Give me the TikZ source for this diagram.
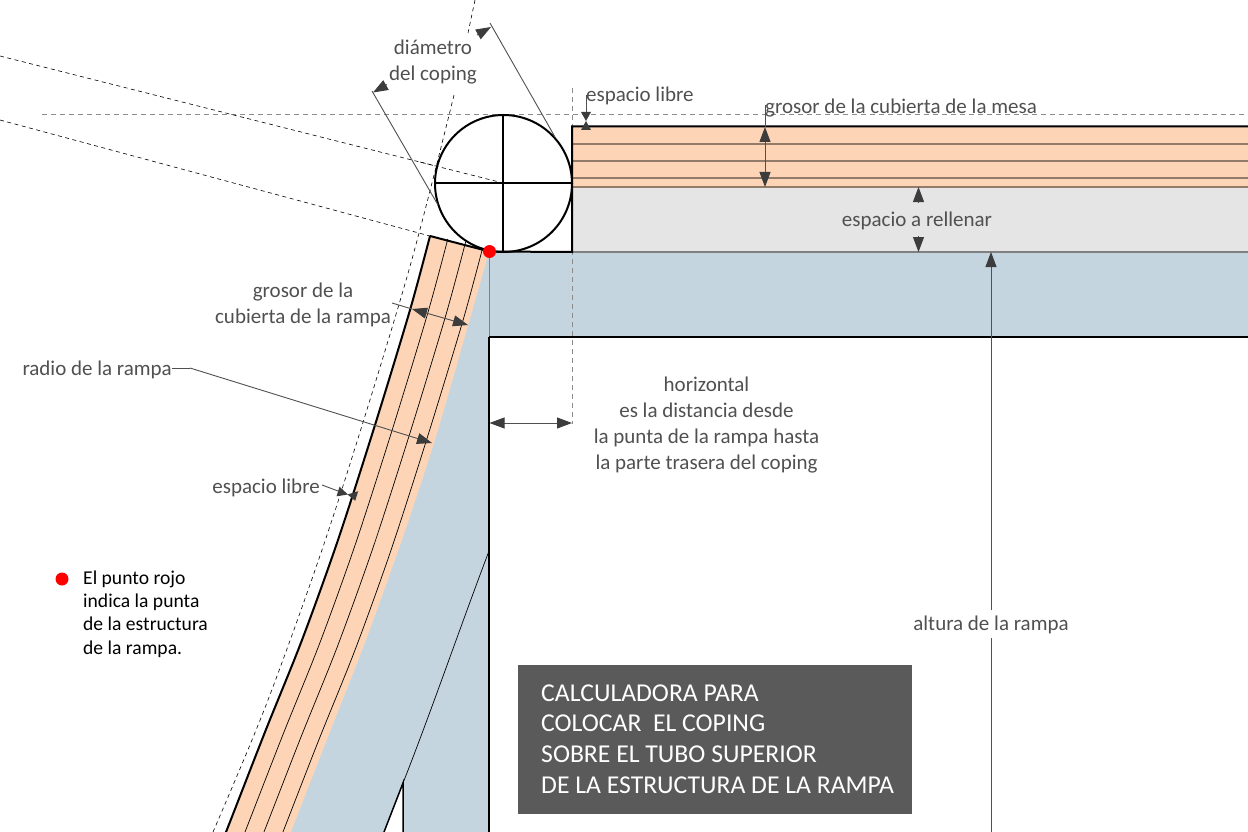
\documentclass[tikz,border=0pt]{standalone}
\usepackage{fontspec}
\setmainfont{Carlito}
\usetikzlibrary{arrows.meta}
\definecolor{deckorange}{HTML}{FDD5B6}
\definecolor{rampblue}{HTML}{C5D5E0}
\definecolor{fillgray}{HTML}{E5E5E5}
\definecolor{labelgray}{HTML}{505050}
\definecolor{tipgray}{HTML}{3C3C3C}
\definecolor{boxgray}{HTML}{5A5A5A}
\tikzset{
  outline/.style={black,line width=2pt},
  plyline/.style={black,line width=.7pt},
  tableply/.style={black!42!deckorange,line width=1.5pt},
  guide/.style={black!45,line width=1pt,dash pattern=on 5pt off 4pt},
  guideblack/.style={black,line width=.6pt,dash pattern=on 4pt off 3.5pt},
  dimline/.style={labelgray,line width=.9pt},
  bigtip/.style={{Triangle[length=15pt,width=11pt,color=tipgray]}-{Triangle[length=15pt,width=11pt,color=tipgray]}},
  endtip/.style={-{Triangle[length=15pt,width=11pt,color=tipgray]}},
  tipfill/.style={fill=tipgray,draw=none},
  label/.style={text=labelgray,font=\fontsize{21}{26}\selectfont,align=center,inner sep=0pt},
  note/.style={text=black,font=\fontsize{19.6}{23.3}\selectfont,align=left,inner sep=0pt},
  title/.style={text=white,font=\fontsize{25.7}{30.7}\selectfont,align=left,inner sep=0pt},
  reddot/.style={fill=red,draw=none}
}
\newcommand{\outeredge}{plot[smooth,tension=.5] coordinates {(430,236) (410,310) (375,425) (338,540) (302,640) (265,732) (226,832) (218,850)}}
\newcommand{\inneredge}{plot[smooth,tension=.5] coordinates {(489,252) (468.3,325) (435,440) (402,540) (366,640) (330,732) (291,832) (284,850)}}
\begin{document}
\begin{tikzpicture}[x=1pt,y=-1pt]
\useasboundingbox (0,0) rectangle (1248,832);
\clip (0,0) rectangle (1248,832);
% Coordinates
\coordinate (center) at (503,183);
\coordinate (tip) at (489.5,251.5);
\coordinate (ramp-top) at (430,236);
\coordinate (back) at (572,252);
\coordinate (frame) at (489,337);
% Fills
\fill[fillgray] (572,187) rectangle (1248,252);
\fill[rampblue] (489,252) rectangle (1248,337);
\fill[deckorange] (572,126.5) rectangle (1248,187);
\fill[deckorange] \outeredge -- (489,850) -- (tip) -- cycle;
\fill[rampblue] \inneredge -- (489,850) -- cycle;
\fill[white] (403,783) -- (384,832) -- (403,832) -- cycle;
% Deck plies
\foreach \k in {1,2,3}
  \draw[plyline,shift={({\k*17.8},{\k*3})}] \outeredge;
\foreach \y in {144,161,178,187}
  \draw[tableply] (572,\y) -- (1248,\y);
\draw[black!50,line width=1.4pt] (back) -- (1248,252);
% Guides
\draw[guide] (42,114.5) -- (1248,114.5);
\draw[guide] (572,88) -- (572,424);
\draw[guideblack] (0,56) -- (center);
\draw[guideblack] (0,120) -- (ramp-top);
\draw[guideblack] (475,0) -- (468,33);
\draw[guideblack] plot[smooth,tension=.5] coordinates {(454,95) (407,277) (332,520) (268,700) (213,832)};
% Frame
\draw[black!50,line width=1pt] (489,252) -- (frame);
\draw[outline] (frame) -- (1248,337);
\draw[outline] (frame) -- (489,832);
\draw[black,line width=.7pt] (489,551) .. controls (462,622) and (431,712) .. (403,783);
\draw[black,line width=1.5pt] (384,832) -- (403,783) -- (403,832);
% Ramp deck outline
\draw[outline] \outeredge;
\draw[outline] (ramp-top) -- (tip);
% Coping and table deck
\draw[outline,fill=white] (503.5,183.5) circle (68.5);
\draw[outline] (503,115) -- (503,252);
\draw[outline] (435,183) -- (572,183);
\draw[guideblack] (420,162) -- (center);
\draw[outline] (tip) -- (back) -- (572,126.5) -- (1248,126.5);
% Dimensions
\draw[dimline] (372,91) -- (438,205);
\draw[dimline] (490,23) -- (555,137);
\draw[dimline,endtip] (387,84.5) -- (373,92.5);
\draw[dimline,endtip] (477,35) -- (491,27);
\draw[dimline] (586,95) -- (586,112);
\fill[tipfill] (581,112) -- (591,112) -- (586,121) -- cycle;
\fill[tipfill] (581,130) -- (591,130) -- (586,121) -- cycle;
\draw[dimline] (765,105) -- (765,127);
\draw[dimline,bigtip] (765,127) -- (765,187);
\draw[dimline,endtip] (918.5,203) -- (918.5,187);
\draw[dimline,endtip] (918.5,236) -- (918.5,252);
\draw[dimline,endtip] (991,610) -- (991,252);
\draw[dimline] (991,638) -- (991,832);
\draw[dimline,bigtip] (489.5,423) -- (572,423);
\draw[dimline] (392,303) -- (412,309);
\draw[dimline,bigtip] (412,309) -- (468,325);
\draw[dimline] (172,368) -- (190,368);
\draw[dimline,endtip] (190,368) -- (432,443);
\draw[dimline] (322,485) -- (338,491);
\fill[tipfill] (339.5,486.7) -- (336.5,496.3) -- (348,494.5) -- cycle;
\fill[tipfill] (358.2,491.2) -- (355.2,500.8) -- (347.5,494.5) -- cycle;
% Red points
\fill[reddot] (tip) circle (6.5);
\fill[reddot] (62,579) circle (6.5);
% Labels
\node[label] (coping-label) at (433,62) {diámetro\\del coping};
\node[label,anchor=west] (gap-table-label) at (586,95.5) {espacio libre};
\node[label,anchor=west] (table-deck-label) at (765,108) {grosor de la cubierta de la mesa};
\node[label] (fill-label) at (917,221) {espacio a rellenar};
\node[label] (deck-label) at (303,305) {grosor de la\\cubierta de la rampa};
\node[label,anchor=east] (radius-label) at (172,369.5) {radio de la rampa};
\node[label,anchor=east] (gap-ramp-label) at (320,488) {espacio libre};
\node[label] (horizontal-label) at (706.5,425) {horizontal\\es la distancia desde\\la punta de la rampa hasta\\la parte trasera del coping};
\node[label] (height-label) at (991,625) {altura de la rampa};
\node[note,anchor=west] (note) at (83,614) {El punto rojo\\indica la punta\\de la estructura\\de la rampa.};
% Title box
\fill[boxgray] (518,665) rectangle (912,814);
\node[title,anchor=west] (title) at (541,739) {CALCULADORA PARA\\COLOCAR~ EL COPING\\SOBRE EL TUBO SUPERIOR\\DE LA ESTRUCTURA DE LA RAMPA};
\end{tikzpicture}
\end{document}
